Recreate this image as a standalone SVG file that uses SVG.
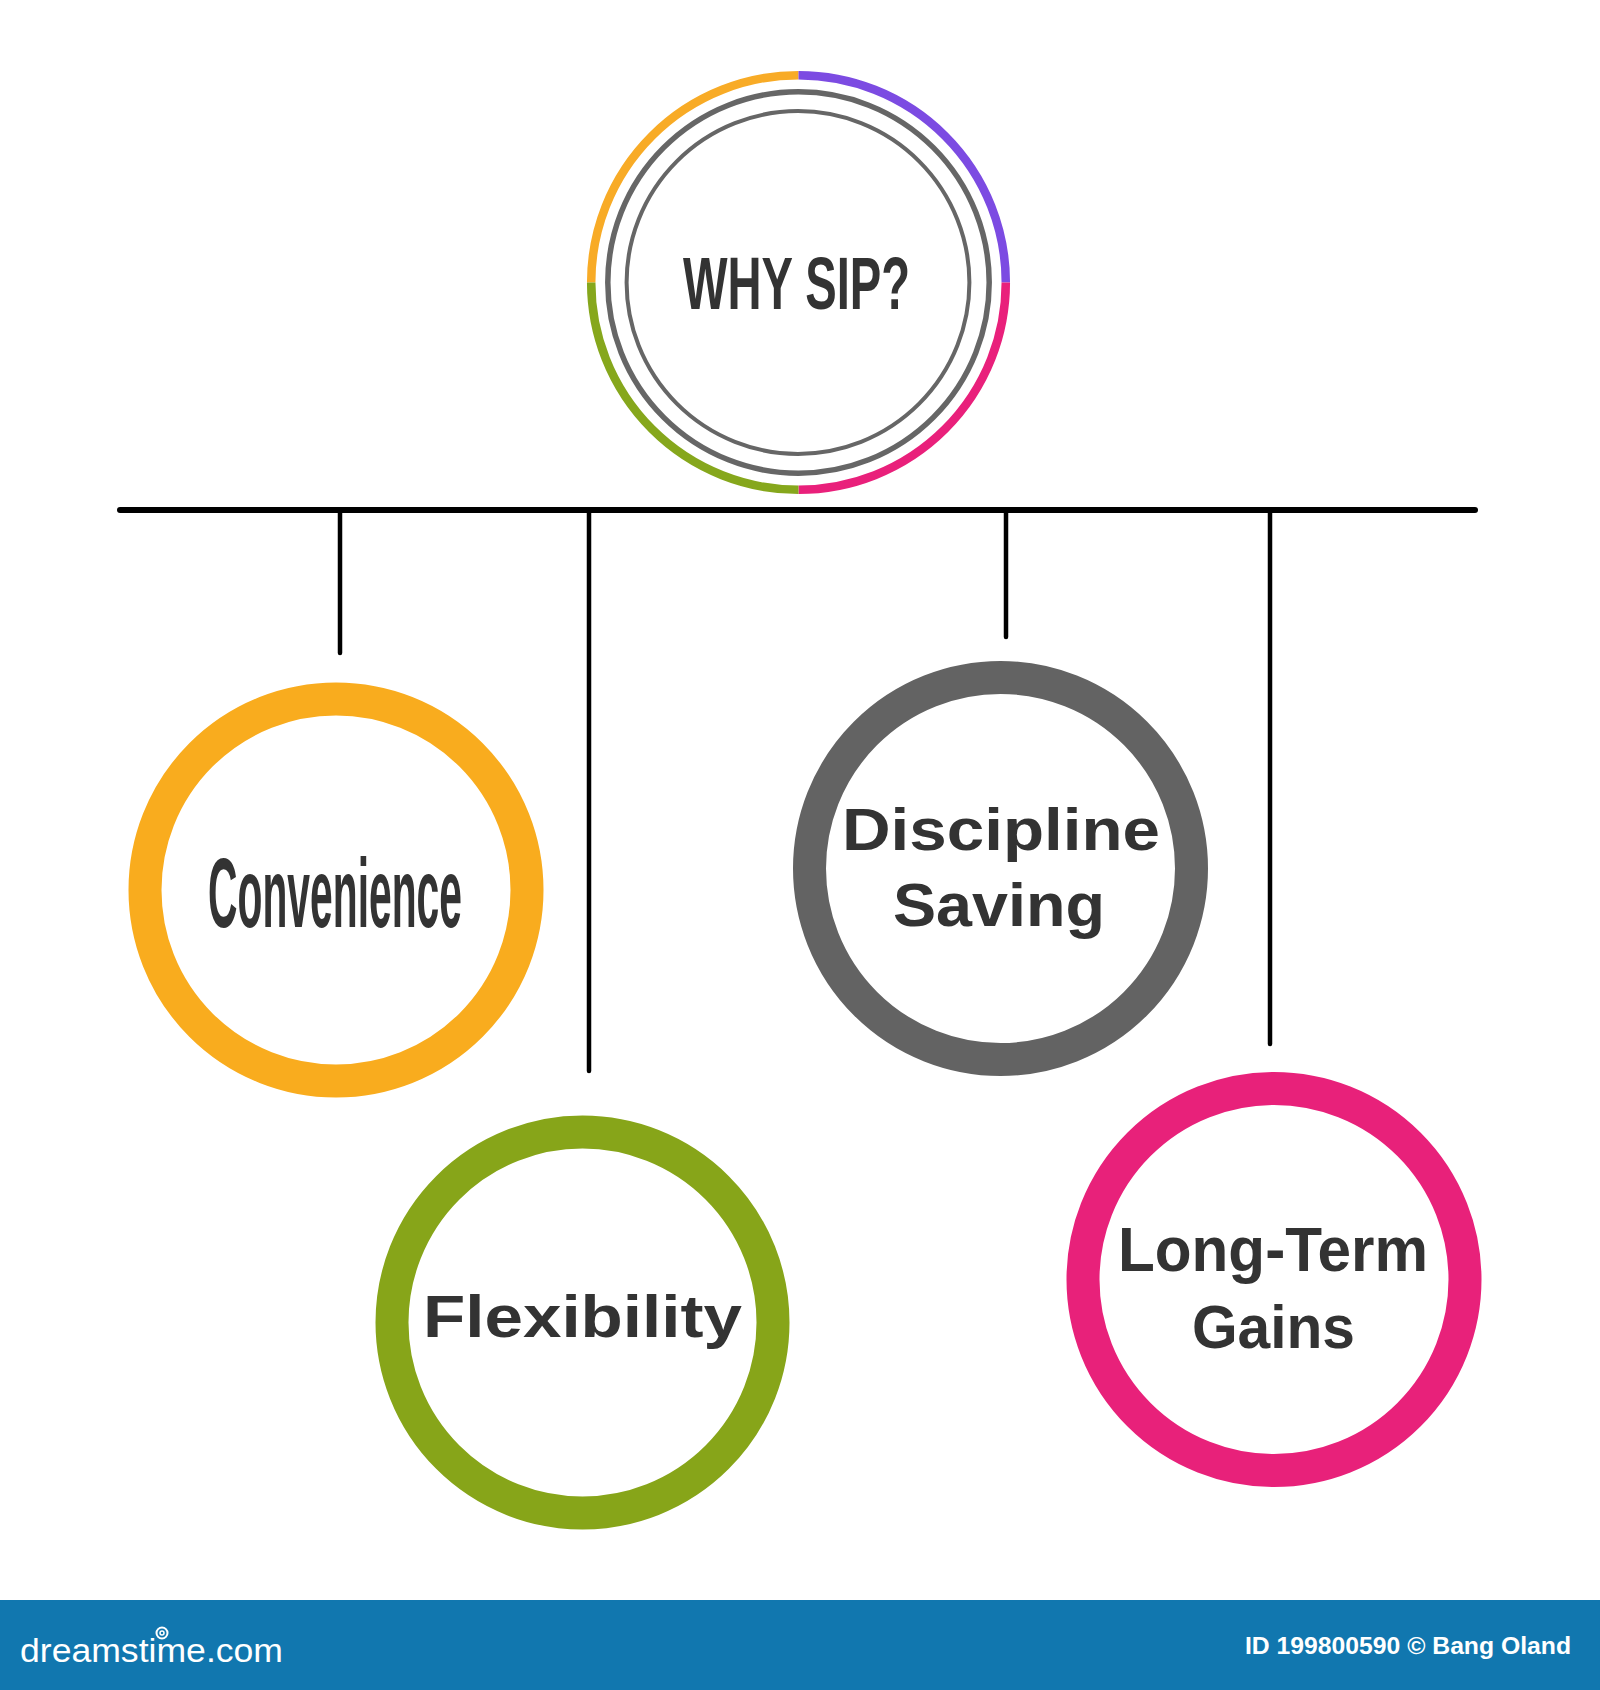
<svg xmlns="http://www.w3.org/2000/svg" width="1600" height="1690" viewBox="0 0 1600 1690">
  <style>
    .lbl { font-family: "Liberation Sans", Arial, sans-serif; font-weight: bold; fill: #333333; }
    .ring { fill: #ffffff; stroke-width: 33; }
    .conn { stroke: #000000; stroke-linecap: round; fill: none; }
    .arc { fill: none; stroke-width: 8.5; }
    .foot { font-family: "Liberation Sans", Arial, sans-serif; fill: #ffffff; }
  </style>
  <rect x="0" y="0" width="1600" height="1690" fill="#ffffff"/>

  <g id="connectors">
    <line class="conn" x1="120" y1="510" x2="1475" y2="510" stroke-width="6"/>
    <line class="conn" x1="340" y1="510" x2="340" y2="653" stroke-width="4.5"/>
    <line class="conn" x1="589" y1="510" x2="589" y2="1071" stroke-width="4.5"/>
    <line class="conn" x1="1006" y1="510" x2="1006" y2="637" stroke-width="4.5"/>
    <line class="conn" x1="1270" y1="510" x2="1270" y2="1044" stroke-width="4.5"/>
  </g>

  <g id="why-sip">
    <circle cx="798.5" cy="282.5" r="207.3" fill="#ffffff"/>
    <path class="arc" stroke="#F8AB26" d="M 591.2 282.5 A 207.3 207.3 0 0 1 798.5 75.2"/>
    <path class="arc" stroke="#7C4BE2" d="M 798.5 75.2 A 207.3 207.3 0 0 1 1005.8 282.5"/>
    <path class="arc" stroke="#E9207B" d="M 1005.8 282.5 A 207.3 207.3 0 0 1 798.5 489.8"/>
    <path class="arc" stroke="#86A71C" d="M 798.5 489.8 A 207.3 207.3 0 0 1 591.2 282.5"/>
    <circle cx="798.5" cy="282.5" r="190.7" fill="none" stroke="#666666" stroke-width="5.5"/>
    <circle cx="798" cy="282.5" r="171.4" fill="none" stroke="#666666" stroke-width="4"/>
    <text class="lbl" x="683" y="309" font-size="75" textLength="227" lengthAdjust="spacingAndGlyphs">WHY SIP?</text>
  </g>

  <g id="convenience">
    <circle class="ring" cx="336" cy="890" r="191" stroke="#F9AC1E"/>
    <text class="lbl" x="208" y="927" font-size="98" textLength="254" lengthAdjust="spacingAndGlyphs">Convenience</text>
  </g>

  <g id="discipline-saving">
    <circle class="ring" cx="1000.5" cy="868.5" r="191" stroke="#636363" stroke-width="32"/>
    <text class="lbl" x="842" y="850" font-size="59" textLength="318" lengthAdjust="spacingAndGlyphs">Discipline</text>
    <text class="lbl" x="893" y="926" font-size="62" textLength="212" lengthAdjust="spacingAndGlyphs">Saving</text>
  </g>

  <g id="flexibility">
    <circle class="ring" cx="582.5" cy="1322.5" r="190.5" stroke="#87A519" stroke-width="34"/>
    <text class="lbl" x="423" y="1337" font-size="59" textLength="319" lengthAdjust="spacingAndGlyphs">Flexibility</text>
  </g>

  <g id="long-term-gains">
    <circle class="ring" cx="1274" cy="1279.5" r="191" stroke="#E8217A" stroke-width="34"/>
    <text class="lbl" x="1118" y="1271" font-size="63" textLength="310" lengthAdjust="spacingAndGlyphs">Long-Term</text>
    <text class="lbl" x="1192" y="1348" font-size="61" textLength="163" lengthAdjust="spacingAndGlyphs">Gains</text>
  </g>

  <g id="footer">
    <rect x="0" y="1600" width="1600" height="90" fill="#1177AF"/>
    <circle cx="162" cy="1633" r="5.5" fill="none" stroke="#ffffff" stroke-width="2"/>
    <circle cx="162" cy="1633" r="2" fill="none" stroke="#ffffff" stroke-width="1.5"/>
    <text class="foot" x="20" y="1662" font-size="33" textLength="263" lengthAdjust="spacingAndGlyphs">dreamstime.com</text>
    <text class="foot" x="1245" y="1654" font-size="23" font-weight="bold" textLength="326" lengthAdjust="spacingAndGlyphs">ID 199800590 © Bang Oland</text>
  </g>
</svg>
